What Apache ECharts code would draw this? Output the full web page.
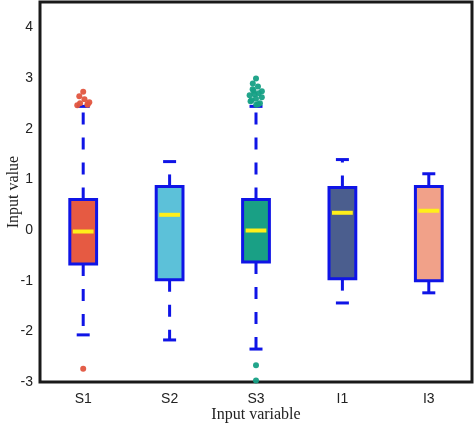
<!DOCTYPE html>
<html>
<head>
<meta charset="utf-8">
<script src="https://cdn.jsdelivr.net/npm/echarts@6/dist/echarts.min.js"></script>
<style>html,body{margin:0;padding:0;background:#fff}#c{width:474px;height:426px}</style>
</head>
<body>
<div id="c"></div>
<script>
// ---- data ----
var categories = ['S1', 'S2', 'S3', 'I1', 'I3'];
var lowerWhisker = [-2.07, -2.17, -2.35, -1.44, -1.24];
var q1Values = [-0.67, -0.98, -0.63, -0.96, -1.00];
var medianValues = [-0.03, 0.30, -0.01, 0.34, 0.38];
var q3Values = [0.60, 0.86, 0.60, 0.84, 0.86];
var upperWhisker = [2.44, 1.35, 2.44, 1.39, 1.11];
var s1Outliers = [2.73, 2.64, 2.58, 2.50, 2.48, 2.46, 2.47, 2.52, -2.74];
var s3Outliers = [2.99, 2.89, 2.83, 2.75, 2.74, 2.68, 2.66, 2.59, 2.62, 2.54, 2.48, 2.47, 2.50, 2.56, 2.70, 2.78, -2.67, -2.97];
var yTicks = [-3, -2, -1, 0, 1, 2, 3, 4];

// ---- styles ----
var fillColors = ['#E65A42', '#5CC1D9', '#19A085', '#4B5E8E', '#F1A189'];
var edgeColor = '#0F14E6';
var medianColor = '#FFEF1A';

var boxData = categories.map(function (c, i) {
  return [i, lowerWhisker[i], q1Values[i], medianValues[i], q3Values[i], upperWhisker[i]];
});

function renderBox(params, api) {
  var i = api.value(0);
  var band = api.size([1, 0])[0];
  var bw = band * 0.31;
  var capW = 13;
  var pLow = api.coord([i, api.value(1)]);
  var pQ1 = api.coord([i, api.value(2)]);
  var pMed = api.coord([i, api.value(3)]);
  var pQ3 = api.coord([i, api.value(4)]);
  var pHigh = api.coord([i, api.value(5)]);
  var x = pQ1[0];
  var whiskerStyle = { stroke: edgeColor, lineWidth: 3, lineDash: [12, 13], fill: null };
  var solid = { stroke: edgeColor, lineWidth: 3, fill: null };
  return {
    type: 'group',
    children: [
      { type: 'line', shape: { x1: x, y1: pQ3[1], x2: x, y2: pHigh[1] }, style: whiskerStyle },
      { type: 'line', shape: { x1: x, y1: pQ1[1], x2: x, y2: pLow[1] }, style: whiskerStyle },
      { type: 'line', shape: { x1: x - capW / 2, y1: pHigh[1], x2: x + capW / 2, y2: pHigh[1] }, style: solid },
      { type: 'line', shape: { x1: x - capW / 2, y1: pLow[1], x2: x + capW / 2, y2: pLow[1] }, style: solid },
      { type: 'rect', shape: { x: x - bw / 2, y: pQ3[1], width: bw, height: pQ1[1] - pQ3[1] },
        style: { fill: fillColors[i], stroke: edgeColor, lineWidth: 3 } },
      { type: 'line', shape: { x1: x - bw / 2 + 3, y1: pMed[1], x2: x + bw / 2 - 3, y2: pMed[1] },
        style: { stroke: medianColor, lineWidth: 4 } }
    ]
  };
}

var chart = echarts.init(document.getElementById('c'), null, { renderer: 'canvas' });
chart.setOption({
  animation: false,
  backgroundColor: '#fff',
  grid: { left: 40, top: 2, right: 2, bottom: 44, containLabel: false, outerBoundsMode: 'none',
    show: true, borderColor: '#1a1a1a', borderWidth: 3, backgroundColor: 'transparent' },
  xAxis: {
    type: 'category', data: categories, boundaryGap: true,
    jitter: 13, jitterOverlap: false, jitterMargin: 0,
    axisLine: { show: false }, axisTick: { show: false },
    axisLabel: { margin: 10, fontFamily: 'Liberation Sans, Arial', fontSize: 14, color: '#222' },
    name: 'Input variable', nameLocation: 'middle', nameGap: 25, nameMoveOverlap: false,
    nameTextStyle: { fontFamily: 'Liberation Serif, DejaVu Serif, serif', fontSize: 16, color: '#222' }
  },
  yAxis: {
    type: 'value', min: -3, max: 4.5, interval: 1,
    axisLine: { show: false }, axisTick: { show: false }, splitLine: { show: false },
    axisLabel: {
      margin: 7, fontFamily: 'Liberation Sans, Arial', fontSize: 14, color: '#222', showMaxLabel: false,
      formatter: function (v) { return yTicks.indexOf(v) >= 0 ? String(v) : ''; }
    },
    name: 'Input value', nameLocation: 'middle', nameGap: 18, nameMoveOverlap: false,
    nameTextStyle: { fontFamily: 'Liberation Serif, DejaVu Serif, serif', fontSize: 16, color: '#222' }
  },
  series: [
    { type: 'custom', renderItem: renderBox, data: boxData, encode: { x: 0, y: [1, 2, 3, 4, 5] }, z: 2 },
    { type: 'scatter', symbolSize: 6, itemStyle: { color: '#E2553F', opacity: 0.95 }, z: 3,
      data: s1Outliers.map(function (v) { return ['S1', v]; }) },
    { type: 'scatter', symbolSize: 6, itemStyle: { color: '#16A085', opacity: 0.95 }, z: 3,
      data: s3Outliers.map(function (v) { return ['S3', v]; }) }
  ]
});
</script>
</body>
</html>
